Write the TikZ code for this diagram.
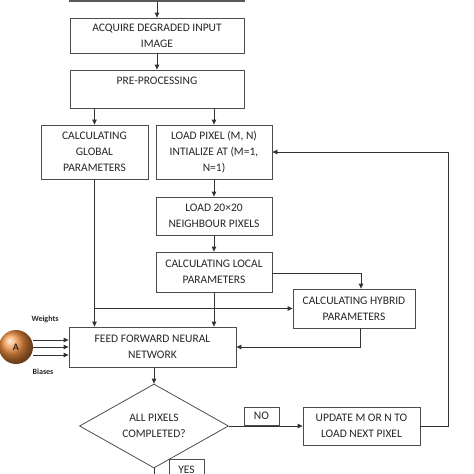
\documentclass[tikz,border=0pt]{standalone}
\usepackage{fontspec}
\setmainfont{Carlito}
\usepackage{tikz}
\usetikzlibrary{arrows.meta,calc,positioning,shapes.geometric,shadings}
\tikzset{
  every picture/.style={draw=black!75, text=black!85},
}
\definecolor{ballorange}{RGB}{240,140,60}

\begin{document}
\begin{tikzpicture}[x=1pt,y=-1pt,
  every node/.style={font=\fontsize{11.5}{16}\selectfont},
  box/.style={draw=black!70, line width=0.8pt, align=center, inner sep=0pt},
  arr/.style={draw=black!80, line width=0.8pt, -{Triangle[length=5pt,width=4.5pt]}},
  ln/.style={draw=black!80, line width=0.8pt},
  tag/.style={font=\fontsize{8}{9}\selectfont\bfseries, text=black!85}]
\useasboundingbox (0,0) rectangle (474,474);
\clip (0,0) rectangle (474,474);
% Main column of boxes
\node[box, line width=2pt, draw=black!65, minimum width=174, minimum height=22] (start) at (157,-10) {};
\node[box, minimum width=174, minimum height=35] (acq) at (157,35.5) {ACQUIRE DEGRADED INPUT\\IMAGE};
\node[box, minimum width=174, minimum height=38] (pre) at (157,89) {PRE-PROCESSING\\\mbox{}};
\node[box, minimum width=107, minimum height=54] (glob) at (94.5,152) {CALCULATING\\GLOBAL\\PARAMETERS};
\node[box, minimum width=116, minimum height=54] (pix) at (214,152) {LOAD PIXEL (M, N)\\INTIALIZE AT (M=1,\\N=1)};
\node[box, minimum width=116, minimum height=38] (nbr) at (214,216) {LOAD 20×20\\NEIGHBOUR PIXELS};
\node[box, minimum width=116, minimum height=40] (loc) at (214,272) {CALCULATING LOCAL\\PARAMETERS};
\node[box, minimum width=122, minimum height=39] (hyb) at (354,308.5) {CALCULATING HYBRID\\PARAMETERS};
\node[box, minimum width=167, minimum height=40] (ffnn) at (152.5,347) {FEED FORWARD NEURAL\\NETWORK};
\node[box, diamond, aspect=1.77, minimum width=149, minimum height=84] (done) at (154,426) {ALL PIXELS\\COMPLETED?};
\node[box, minimum width=35, minimum height=18] (no) at (261.5,416) {NO};
\node[box, minimum width=35, minimum height=22] (yes) at (186.5,470) {YES};
\node[box, minimum width=117, minimum height=38] (upd) at (361.5,426) {UPDATE M OR N TO\\LOAD NEXT PIXEL};
% Input neuron
\node[circle, minimum size=34, inner sep=0pt, shading=ball, ball color=ballorange,
  font=\fontsize{10}{11}\selectfont\bfseries] (bias) at (16,347) {A};
\node[tag] (wlab) at (45,319) {Weights};
\node[tag] (blab) at (43,372) {Biases};
\coordinate (back) at (448,426);
\coordinate (out) at (154,480);
% Connectors
\draw[arr] (start) -- (acq);
\draw[arr] (acq) -- (pre);
\draw[arr] (pre.south -| glob) -- (glob);
\draw[arr] (pre.south -| pix) -- (pix);
\draw[arr] (pix) -- (nbr);
\draw[arr] (nbr) -- (loc);
\draw[arr] (glob) -- (glob |- ffnn.north);
\draw[arr] (glob.south |- hyb.west) -- (hyb.west);
\draw[arr] (loc) -- (loc |- ffnn.north);
\draw[arr] ([yshift=-1]loc.east) -| ([xshift=7]hyb.north);
\draw[arr] ([xshift=6]hyb.south) |- (ffnn.east);
\draw[arr] (ffnn.south -| done) -- (done.north);
\draw[arr] (done.east) -- (upd.west);
\draw[arr] (upd.east) -- (back) |- (pix.east);
\draw[ln] (done.south) -- (out);
\foreach \dy in {-8,0,7}{
  \draw[arr] ([yshift=\dy]bias.east) -- ([yshift=\dy]ffnn.west);
}
\end{tikzpicture}
\end{document}
